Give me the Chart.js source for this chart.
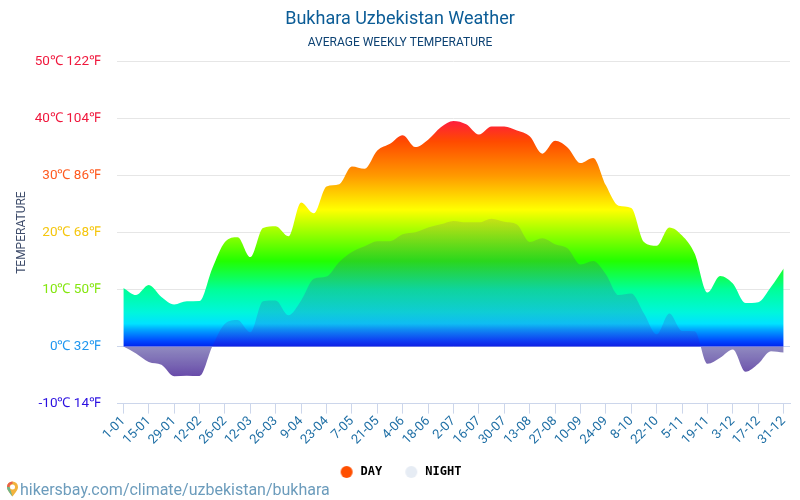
<!DOCTYPE html>
<html>
<head>
<meta charset="utf-8">
<title>Bukhara Uzbekistan Weather</title>
<script src="https://cdn.jsdelivr.net/npm/chart.js@4"></script>
<style>
	body { margin: 0; background: #fff; }
	#wrap { position: relative; width: 800px; height: 500px; overflow: hidden; }
	#source { position: absolute; left: 20px; top: 480px; font: 16px Roboto, sans-serif; color: #6c9cbc; white-space: nowrap; }
	#pin { position: absolute; left: 6px; top: 481px; }
</style>
</head>
<body>
<div id="wrap">
	<canvas id="myChart" width="800" height="500"></canvas>
	<svg id="pin" width="13" height="16" viewBox="0 0 13 16">
		<path d="M6.5 15.5 C3 11 1 8.500 1 6 A5.500 5.500 0 0 1 12 6 C12 8.500 10 11 6.500 15.500 Z" fill="#f2b33d"/>
		<path d="M1 6 A5.500 5.500 0 0 1 6.500 0.500 L6.500 3 A3 3 0 0 0 3.500 6 Z" fill="#e8604c"/>
		<path d="M6.500 15.500 C3 11 1 8.500 1 6 L3.500 6 L6.500 15.500 Z" fill="#6fb58a"/>
		<circle cx="6.500" cy="6" r="2.500" fill="#fff"/>
	</svg>
	<div id="source">hikersbay.com/climate/uzbekistan/bukhara</div>
</div>
<script>
var weeks = ["1-01","8-01","15-01","22-01","29-01","5-02","12-02","19-02","26-02","5-03","12-03","19-03","26-03","2-04","9-04","16-04","23-04","30-04","7-05","14-05","21-05","28-05","4-06","11-06","18-06","25-06","2-07","9-07","16-07","23-07","30-07","6-08","13-08","20-08","27-08","3-09","10-09","17-09","24-09","1-10","8-10","15-10","22-10","29-10","5-11","12-11","19-11","26-11","3-12","10-12","17-12","24-12","31-12"];
var dayTemps = [10.3,9.05,10.8,8.7,7.4,7.95,8,13.7,18.35,19.2,15.7,20.8,21.1,19.35,25.3,23.4,28.1,28.5,31.6,31.2,34.4,35.6,37.1,35,36.3,38.5,39.6,39,37.2,38.6,38.6,37.9,36.9,33.85,36.1,34.9,32.2,33.1,28.3,24.7,24.3,18.35,17.7,20.9,19.5,16.3,9.5,12.4,11.05,7.65,7.8,10.45,13.7];
var nightTemps = [0,-1.2,-2.7,-3.2,-5.2,-5.1,-5.15,0,4,4.65,2.5,7.95,8.1,5.5,8.1,11.9,12.3,14.85,16.6,17.6,18.5,18.5,19.7,20.05,20.9,21.45,22.05,21.8,21.8,22.45,21.9,21.4,18.35,19,17.95,17.2,14.4,15,12.7,9.05,9.3,5.8,2.15,5.8,2.75,2.7,-3,-1.95,-0.5,-4.4,-3,-0.8,-1.05];

var tickValues = [50,40,30,20,10,0,-10];
var tickNames = ["50℃ 122℉","40℃ 104℉","30℃ 86℉","20℃ 68℉","10℃ 50℉","0℃ 32℉","-10℃ 14℉"];
var tickColors = ["#f0173c","#f0173c","#ff5a1f","#f5c60d","#84e60f","#1e96f0","#2a0fe0"];

// temperature -> colour stops for the fills
var dayStopTemps = [50,40,36,30,24,22,15,10,6,4,3,1,0];
var dayStopColors = ["#ff0066","#ff1744","#ff4a00","#ff9900","#ffff00","#ccff00","#22ff00","#00ff99","#00f6dc","#00e2ff","#00a8ff","#0048ff","#0024ee"];
var nightStopTemps = [25,13,0,-0.01,-6,-10];
var nightStopColors = ["rgba(88,0,180,0.10)","rgba(88,0,180,0.17)","rgba(88,0,180,0.17)","rgba(70,60,150,0.6)","rgba(70,30,150,0.85)","rgba(60,20,150,0.9)"];
var legendColors = ["#ff4f00","#e6ecf4"];

function tempGradient(ctx, temps, colors) {
	var chart = ctx.chart;
	if (!chart.chartArea) return colors[0];
	var y = chart.scales.y;
	var top = y.getPixelForValue(temps[0]);
	var bottom = y.getPixelForValue(temps[temps.length - 1]);
	var g = chart.ctx.createLinearGradient(0, top, 0, bottom);
	for (var i = 0; i < temps.length; i++) {
		g.addColorStop((y.getPixelForValue(temps[i]) - top) / (bottom - top), colors[i]);
	}
	return g;
}

// 16px wide legend marker holding a 12px circle
function legendDot(color) {
	var c = document.createElement("canvas");
	c.width = 16;
	c.height = 16;
	var g = c.getContext("2d");
	g.fillStyle = color;
	g.arc(8, 8, 6, 0, Math.PI * 2);
	g.fill();
	return c;
}

new Chart("myChart", {
	type: "line",
	data: {
		labels: weeks,
		datasets: [
			{
				label: "NIGHT",
				data: nightTemps,
				fill: "origin",
				order: 1,
				borderWidth: 0,
				pointRadius: 0,
				cubicInterpolationMode: "monotone",
				backgroundColor: function (ctx) { return tempGradient(ctx, nightStopTemps, nightStopColors); },
			},
			{
				label: "DAY",
				data: dayTemps,
				fill: "origin",
				order: 2,
				borderWidth: 0,
				pointRadius: 0,
				cubicInterpolationMode: "monotone",
				backgroundColor: function (ctx) { return tempGradient(ctx, dayStopTemps, dayStopColors); },
			},
		],
	},
	options: {
		responsive: false,
		animation: false,
		layout: { padding: { top: 0, right: 10, bottom: 12, left: 10 } },
		scales: {
			x: {
				type: "category",
				offset: true,
				afterBuildTicks: function (scale) {
					// one label every second week
					scale.ticks = scale.ticks.filter(function (t) { return t.value % 2 === 0; });
				},
				afterFit: function (scale) { scale.height = 41.4; },
				border: { color: "#ccd6eb" },
				grid: { drawOnChartArea: false, offset: false, tickLength: 10, tickColor: "#ccd6eb" },
				ticks: {
					autoSkip: false,
					maxRotation: 45,
					minRotation: 45,
					padding: 0,
					color: "#1f6fa5",
					font: { family: "Roboto", size: 13 },
				},
			},
			y: {
				min: -10,
				max: 50,
				afterFit: function (scale) { scale.width = 107; },
				afterBuildTicks: function (scale) {
					scale.ticks = tickValues.map(function (v) { return { value: v }; });
				},
				border: { display: false },
				grid: {
					drawTicks: false,
					color: function (ctx) { return ctx.tick.value <= 0 ? "#ccd6eb" : "#e6e6e6"; },
				},
				ticks: {
					padding: 16,
					font: { family: "Roboto", size: 13.5 },
					color: function (ctx) { return tickColors[tickValues.indexOf(ctx.tick.value)]; },
					callback: function (v) { return tickNames[tickValues.indexOf(v)]; },
				},
				title: {
					display: true,
					text: "TEMPERATURE",
					color: "#3f4d6b",
					font: { family: "Roboto", size: 12 },
					padding: { top: 5, bottom: 0 },
				},
			},
		},
		plugins: {
			title: {
				display: true,
				text: "Bukhara Uzbekistan Weather",
				color: "#0b5c96",
				font: { family: "Roboto", size: 18, weight: "normal" },
				padding: { top: 9, bottom: 5 },
			},
			subtitle: {
				display: true,
				text: "AVERAGE WEEKLY TEMPERATURE",
				color: "#0d4273",
				font: { family: "Roboto", size: 12, weight: "normal" },
				padding: { top: 0, bottom: 11.6 },
			},
			legend: {
				position: "bottom",
				labels: {
					usePointStyle: true,
					pointStyleWidth: 16,
					boxHeight: 9,
					padding: 21,
					color: "#333333",
					font: { family: "DejaVu Sans Mono", size: 12, weight: "bold" },
					generateLabels: function () {
						return ["DAY", "NIGHT"].map(function (name, i) {
							return { text: name, fillStyle: legendColors[i], strokeStyle: legendColors[i], lineWidth: 0, pointStyle: legendDot(legendColors[i]), datasetIndex: 1 - i };
						});
					},
				},
			},
			tooltip: { enabled: false },
		},
	},
});
</script>
</body>
</html>
